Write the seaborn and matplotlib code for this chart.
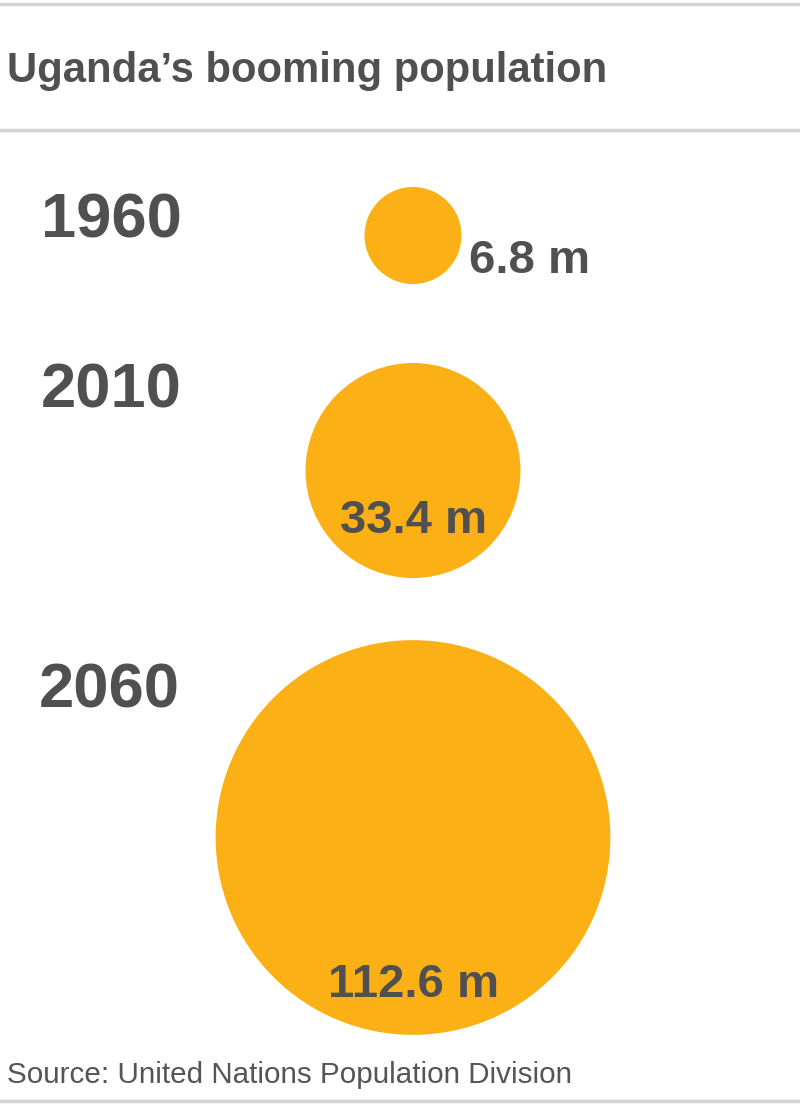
import matplotlib
matplotlib.use("Agg")
import matplotlib.pyplot as plt
import seaborn as sns
import pandas as pd

# ---- data ----
years = ["1960", "2010", "2060"]
population_m = [6.8, 33.4, 112.6]
value_labels = ["6.8 m", "33.4 m", "112.6 m"]
title = "Uganda\u2019s booming population"
source = "Source: United Nations Population Division"

# ---- layout (pixel space of an 800x1105 canvas) ----
W, H = 800, 1105
cx = 413
cy = [235.5, 470.5, 837.5]
year_y = [237, 407, 707]
year_x = [41, 41, 39]
label_pos = [(469, 273, "left"), (413, 533, "center"), (413, 997, "center")]

orange = "#FBB116"
dark = "#505050"
rule = "#D4D4D4"

sns.set_theme(style="white")
plt.rcParams["font.family"] = ["Liberation Sans", "DejaVu Sans"]

fig = plt.figure(figsize=(W / 100, H / 100), dpi=100)
ax = fig.add_axes([0, 0, 1, 1])
ax.set_xlim(0, W)
ax.set_ylim(H, 0)
ax.axis("off")

# circle area proportional to population: radius_px = k*sqrt(v)
k_px = 18.6
k_pt = k_px * 72 / 100
area_per_unit = (2 * k_pt) ** 2
df = pd.DataFrame({"year": years, "pop": population_m, "x": [cx] * 3, "y": cy})
sns.scatterplot(
    data=df, x="x", y="y", size="pop",
    sizes=(area_per_unit * min(population_m), area_per_unit * max(population_m)),
    size_norm=(min(population_m), max(population_m)),
    color=orange, edgecolor="none", linewidth=0, legend=False, ax=ax, zorder=2,
)
ax.set_xlim(0, W)
ax.set_ylim(H, 0)

# rules
for y, lw in [(3.5, 2.5), (129.5, 2.5), (1100.5, 2.5)]:
    ax.axhline(y, color=rule, lw=lw, zorder=1)

ax.text(7, 82, title, fontsize=30.1, fontweight="bold", color=dark, va="baseline", ha="left")

for yr, x, y in zip(years, year_x, year_y):
    ax.text(x, y, yr, fontsize=45.5, fontweight="bold", color=dark, va="baseline", ha="left")

for lab, (x, y, ha) in zip(value_labels, label_pos):
    ax.text(x, y, lab, fontsize=34, fontweight="bold", color=dark, va="baseline", ha=ha, zorder=3)

ax.text(7, 1083, source, fontsize=21.3, color="#555555", va="baseline", ha="left")

fig.savefig("out.png", dpi=100, facecolor="white")
